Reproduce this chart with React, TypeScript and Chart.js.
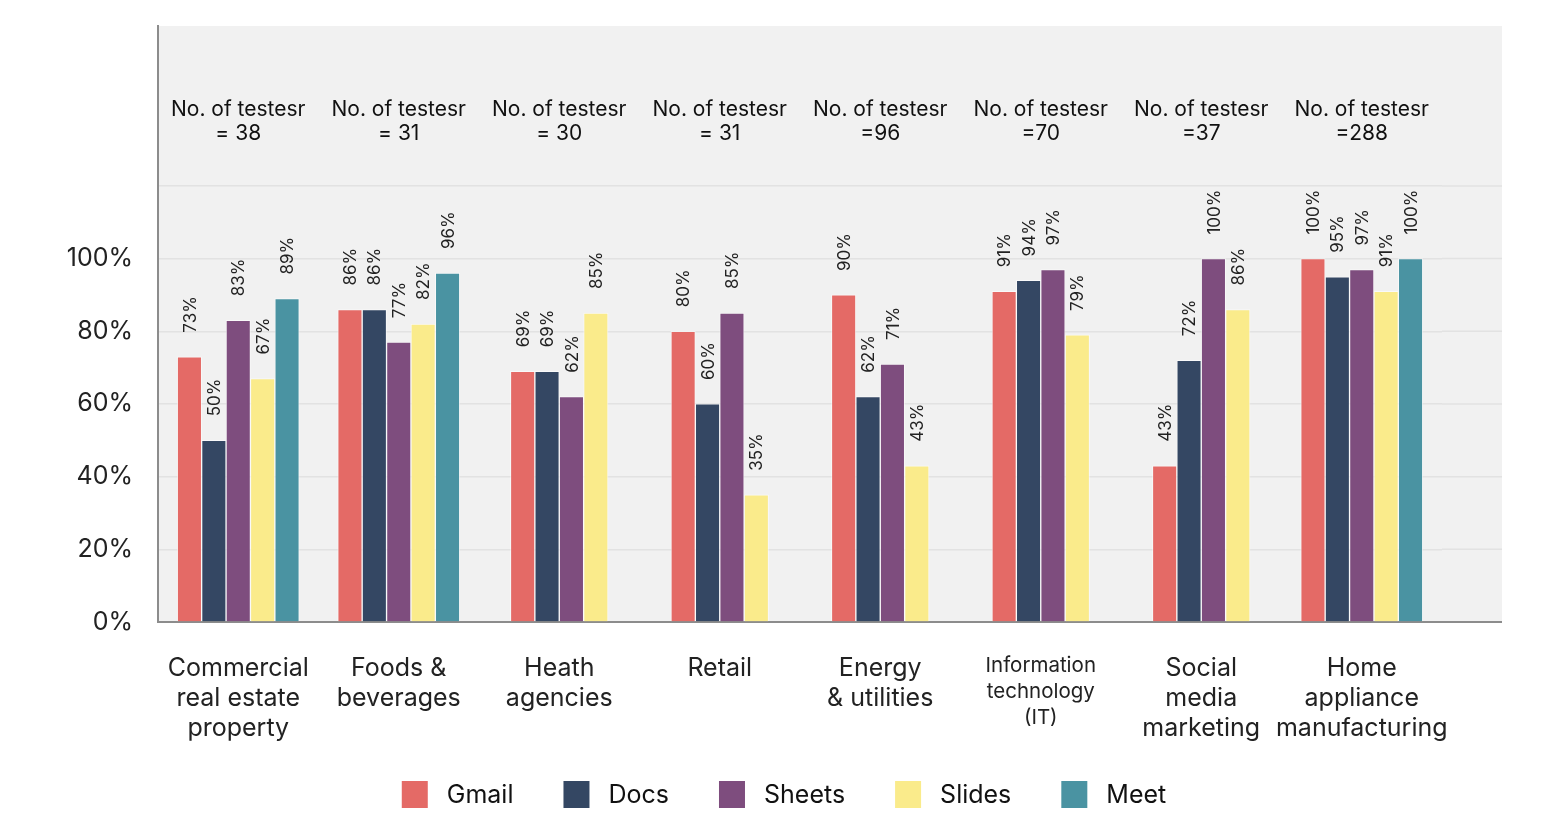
import { useEffect, useRef } from "react";
import { Chart, registerables } from "chart.js";

Chart.register(...registerables);

const FONT = "Inter, 'Noto Sans', sans-serif";

const CATEGORIES: string[][] = [
  ["Commercial", "real estate", "property"],
  ["Foods &", "beverages"],
  ["Heath", "agencies"],
  ["Retail"],
  ["Energy", "& utilities"],
  ["Information", "technology", "(IT)"],
  ["Social", "media", "marketing"],
  ["Home", "appliance", "manufacturing"],
];

const SERIES_NAMES = ["Gmail", "Docs", "Sheets", "Slides", "Meet"];
const GMAIL = [73, 86, 69, 80, 90, 91, 43, 100];
const DOCS = [50, 86, 69, 60, 62, 94, 72, 95];
const SHEETS = [83, 77, 62, 85, 71, 97, 100, 97];
const SLIDES = [67, 82, 85, 35, 43, 79, 86, 91];
const MEET = [89, 96, null, null, null, null, null, 100];

const TESTER_LABELS = ["= 38", "= 31", "= 30", "= 31", "=96", "=70", "=37", "=288"];
const TESTER_TITLE = "No. of testesr";

const Y_MAX = 164;
const Y_STEP = 20;
const Y_LABEL_MAX = 100;
const GRID_MAX = 120;
const TESTER_TEXT_VALUE = 141;

const COLORS = ["#E46A66", "#344763", "#7E4D7E", "#FAEB8B", "#4A93A2"];
const BG = "#F1F1F1";
const GRID = "#E2E2E2";
const AXIS = "#8C8C8C";
const EXTRA_RIGHT = 60;

const LEGEND_BOX_W = 26;
const LEGEND_BOX_H = 27;
const LEGEND_TEXT_GAP = 19;
const LEGEND_ITEM_GAP = 50;
const LEGEND_FONT = 25;

export default function App() {
  const ref = useRef<HTMLCanvasElement | null>(null);

  useEffect(() => {
    if (!ref.current) return;
    const seriesData = [GMAIL, DOCS, SHEETS, SLIDES, MEET];

    const bgPlugin = {
      id: "bgPlugin",
      beforeDraw(chart: any) {
        const { ctx, chartArea: a } = chart;
        ctx.save();
        ctx.fillStyle = BG;
        ctx.fillRect(a.left, a.top, a.right + EXTRA_RIGHT - a.left, a.bottom - a.top);
        ctx.restore();
      },
      beforeDatasetsDraw(chart: any) {
        const { ctx, chartArea: a } = chart;
        const y = chart.scales.y;
        ctx.save();
        ctx.strokeStyle = GRID;
        ctx.lineWidth = 1.5;
        for (let v = Y_STEP; v <= GRID_MAX; v += Y_STEP) {
          const py = y.getPixelForValue(v);
          ctx.beginPath();
          ctx.moveTo(a.right, py);
          ctx.lineTo(a.right + EXTRA_RIGHT, py);
          ctx.stroke();
        }
        ctx.strokeStyle = AXIS;
        ctx.lineWidth = 2;
        ctx.beginPath();
        ctx.moveTo(a.right - 1, Math.round(a.bottom));
        ctx.lineTo(a.right + EXTRA_RIGHT, Math.round(a.bottom));
        ctx.stroke();
        ctx.restore();
      },
    };

    const labelPlugin = {
      id: "labelPlugin",
      afterDatasetsDraw(chart: any) {
        const { ctx } = chart;
        ctx.save();
        ctx.fillStyle = "#222";
        ctx.font = `17px ${FONT}`;
        ctx.textAlign = "left";
        ctx.textBaseline = "middle";
        chart.data.datasets.forEach((ds: any, di: number) => {
          const meta = chart.getDatasetMeta(di);
          meta.data.forEach((bar: any, i: number) => {
            const v = ds.data[i];
            if (v === null || v === undefined) return;
            ctx.save();
            ctx.translate(bar.x, bar.y - 24);
            ctx.rotate(-Math.PI / 2);
            ctx.fillText(`${v}%`, 0, 1);
            ctx.restore();
          });
        });
        const xs = chart.scales.x;
        const ys = chart.scales.y;
        ctx.fillStyle = "#111";
        ctx.font = `21px ${FONT}`;
        ctx.textAlign = "center";
        const y1 = ys.getPixelForValue(TESTER_TEXT_VALUE);
        TESTER_LABELS.forEach((t, i) => {
          const x = xs.getPixelForValue(i);
          ctx.fillText(TESTER_TITLE, x, y1);
          ctx.fillText(t, x, y1 + 24);
        });
        ctx.restore();
      },
    };

    const legendPlugin = {
      id: "legendPlugin",
      afterDraw(chart: any) {
        const { ctx } = chart;
        const ds = chart.data.datasets;
        ctx.save();
        ctx.font = `${LEGEND_FONT}px ${FONT}`;
        ctx.textBaseline = "middle";
        ctx.textAlign = "left";
        const widths = ds.map((d: any) => ctx.measureText(d.label).width);
        const total =
          widths.reduce((s: number, w: number) => s + w + LEGEND_BOX_W + LEGEND_TEXT_GAP, 0) +
          LEGEND_ITEM_GAP * (ds.length - 1);
        let x = (chart.width - total) / 2;
        const top = chart.height - 42;
        ds.forEach((d: any, i: number) => {
          ctx.fillStyle = d.backgroundColor;
          ctx.fillRect(x, top, LEGEND_BOX_W, LEGEND_BOX_H);
          ctx.fillStyle = "#111";
          ctx.fillText(d.label, x + LEGEND_BOX_W + LEGEND_TEXT_GAP, top + LEGEND_BOX_H / 2 + 1);
          x += LEGEND_BOX_W + LEGEND_TEXT_GAP + widths[i] + LEGEND_ITEM_GAP;
        });
        ctx.restore();
      },
    };

    const chart = new Chart(ref.current, {
      type: "bar",
      data: {
        labels: CATEGORIES,
        datasets: SERIES_NAMES.map((name, i) => ({
          label: name,
          data: seriesData[i],
          backgroundColor: COLORS[i],
          borderColor: "rgba(255,255,255,0.55)",
          borderWidth: 1,
          barThickness: 24.4,
          skipNull: true,
        })),
      },
      options: {
        animation: false,
        responsive: true,
        maintainAspectRatio: false,
        layout: { padding: { top: 18, right: 118, left: 0, bottom: 61 } },
        plugins: {
          tooltip: { enabled: false },
          legend: { display: false },
        },
        scales: {
          x: {
            type: "category",
            grid: { display: false, drawTicks: false },
            border: { display: true, color: AXIS, width: 2 },
            ticks: {
              padding: 31,
              color: "#222",
              maxRotation: 0,
              autoSkip: false,
              font: (c: any) =>
                c.index === 5
                  ? { family: FONT, size: 20.5, lineHeight: 1.27 }
                  : { family: FONT, size: 25, lineHeight: 1.2 },
            },
            afterFit: (s: any) => {
              s.height = 140;
            },
          },
          y: {
            min: 0,
            max: Y_MAX,
            ticks: {
              stepSize: Y_STEP,
              padding: 25,
              color: "#222",
              font: { family: FONT, size: 25 },
              callback: (v: any) => (Number(v) <= Y_LABEL_MAX ? `${v}%` : ""),
            },
            grid: {
              drawTicks: false,
              lineWidth: 1.5,
              color: (c: any) =>
                c.tick && c.tick.value > 0 && c.tick.value <= GRID_MAX ? GRID : "rgba(0,0,0,0)",
            },
            border: { display: true, color: AXIS, width: 2 },
            afterFit: (s: any) => {
              s.width = 150;
              s.paddingTop = 0;
            },
          },
        },
      },
      plugins: [bgPlugin, labelPlugin, legendPlugin],
    });

    return () => chart.destroy();
  }, []);

  return (
    <div style={{ position: "relative", width: 1552, height: 815 }}>
      <canvas ref={ref} />
    </div>
  );
}
